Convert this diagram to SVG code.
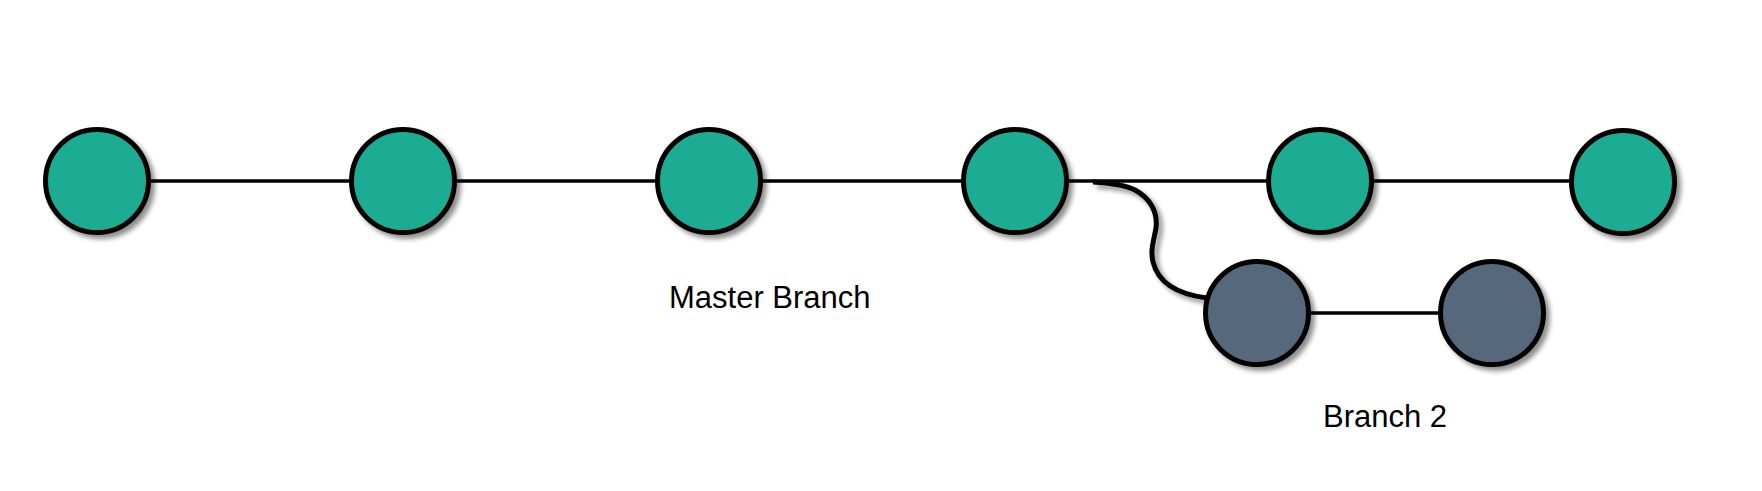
<svg xmlns="http://www.w3.org/2000/svg" width="1762" height="491" viewBox="0 0 1762 491">
<style>
.c{stroke:#000;stroke-width:5;filter:url(#sh)}
.m{fill:#1bac94}
.b{fill:#56677b}
.e{fill:none;stroke:#000;stroke-width:3.5}
.k{fill:none;stroke:#000;stroke-width:5;filter:url(#sh)}
.t{font-family:"Liberation Sans",Arial,sans-serif;font-size:31px;fill:#000}
</style>
<defs>
<filter id="sh" x="-30%" y="-30%" width="160%" height="160%">
<feGaussianBlur in="SourceAlpha" stdDeviation="2.5"/>
<feOffset dx="4" dy="4" result="o"/>
<feComponentTransfer><feFuncA type="linear" slope="0.45"/></feComponentTransfer>
<feMerge><feMergeNode/><feMergeNode in="SourceGraphic"/></feMerge>
</filter>
</defs>
<rect width="1762" height="491" fill="#fff"/>
<g id="connectors">
<path class="e" d="M97,181H1624"/>
<path class="e" d="M1257,313H1492"/>
<path class="k" d="M1093,182 C1110,183 1125,185 1135,190 C1150,198 1158,212 1156,228 C1154,240 1150,250 1153,262 C1158,282 1175,294 1207,298"/>
</g>
<g id="m1"><circle class="c m" cx="97" cy="181" r="51.5"/></g>
<g id="m2"><circle class="c m" cx="403" cy="181" r="51.5"/></g>
<g id="m3"><circle class="c m" cx="709" cy="181" r="51.5"/></g>
<g id="m4"><circle class="c m" cx="1015" cy="181" r="51.5"/></g>
<g id="m5"><circle class="c m" cx="1320" cy="181" r="51.5"/></g>
<g id="m6"><circle class="c m" cx="1623" cy="182" r="51.5"/></g>
<g id="b1"><circle class="c b" cx="1257" cy="313" r="51.5"/></g>
<g id="b2"><circle class="c b" cx="1492" cy="313" r="51.5"/></g>
<g id="labels">
<text class="t" x="669" y="308">Master Branch</text>
<text class="t" x="1323" y="427">Branch 2</text>
</g>
</svg>
